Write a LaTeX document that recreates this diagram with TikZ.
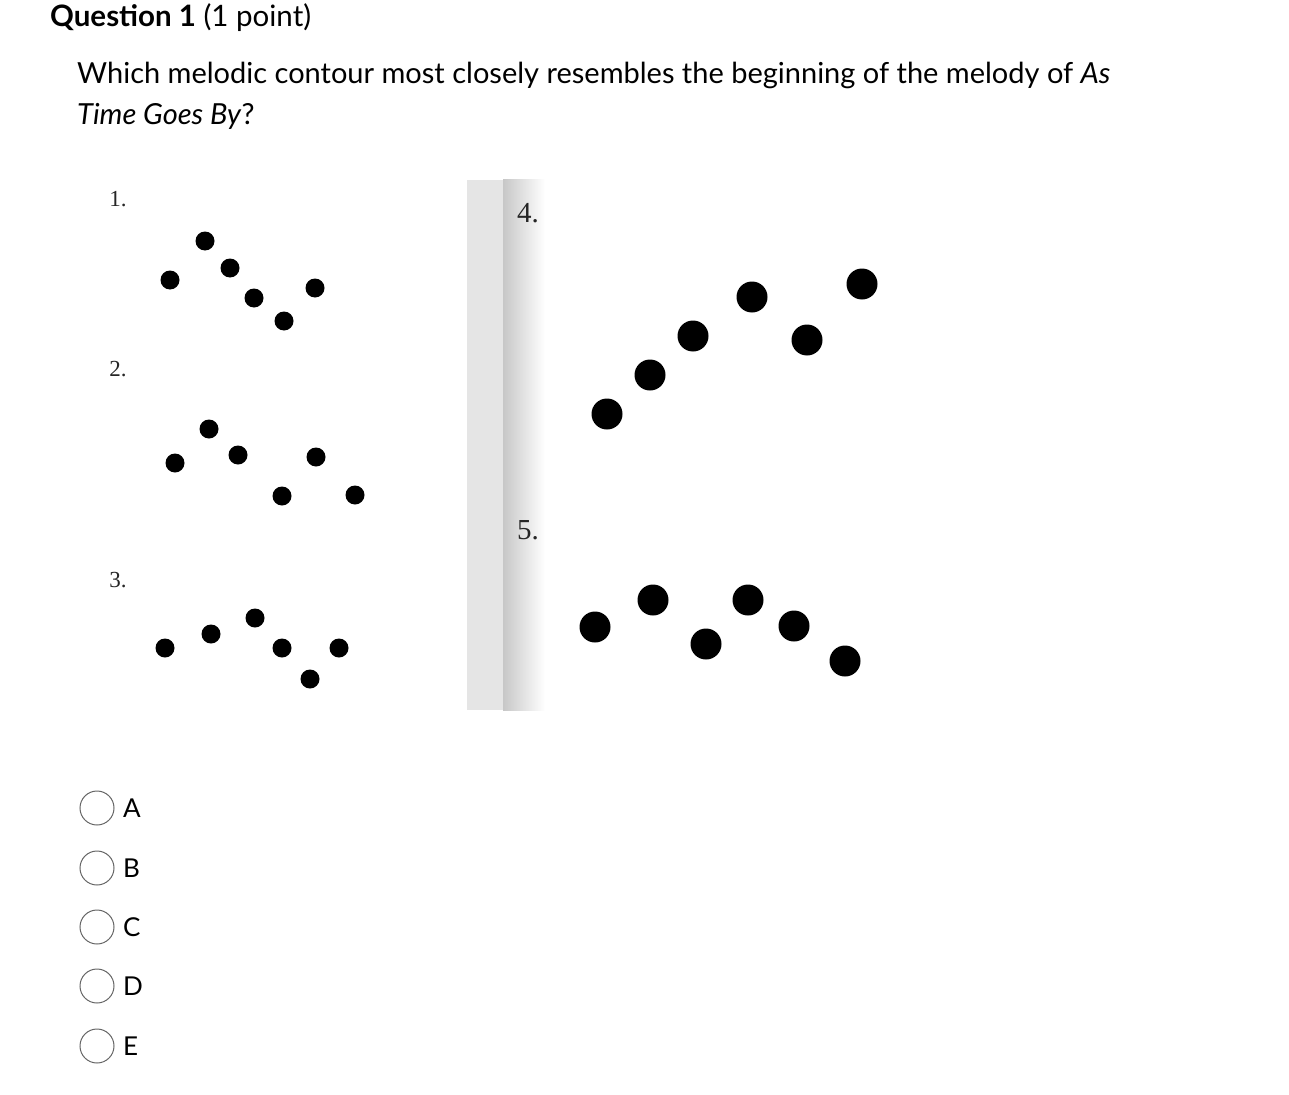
\documentclass[tikz,border=0pt]{standalone}
\usepackage{fontspec}
\setmainfont{Lato}
\newfontfamily\numfont{Liberation Serif}
\begin{document}
\begin{tikzpicture}[x=1pt,y=-1pt,
  txt/.style={anchor=base west,inner sep=0pt,font=\fontsize{29}{34}\selectfont},
  otxt/.style={anchor=west,inner sep=0pt,font=\fontsize{26}{30}\selectfont},
  num/.style={inner sep=0pt,font=\numfont\fontsize{23}{26}\selectfont,text=black!85},
  bnum/.style={inner sep=0pt,font=\numfont\fontsize{29}{32}\selectfont,text=black!85},
  sd/.style={fill=black,circle,minimum size=19pt,inner sep=0pt},
  bd/.style={fill=black,circle,minimum size=31pt,inner sep=0pt},
  radio/.style={draw=black!60,line width=1pt,circle,minimum size=34pt,inner sep=0pt}]
\useasboundingbox (0,0) rectangle (1289,1094);
\node[txt,font=\fontsize{29.5}{34}\selectfont] (q) at (50,27) {\textbf{Question 1} (1 point)};
\node[txt] (l1) at (77,84) {Which melodic contour most closely resembles the beginning of the melody of \textit{As}};
\node[txt] (l2) at (77,125) {\textit{Time Goes By}?};
\fill[black!10] (467,180) rectangle (505,710);
\shade[left color=black!22,right color=white] (503,180) rectangle (545,710);
\node[num] (n1) at (118,199) {1.};
\node[num] (n2) at (118,369) {2.};
\node[num] (n3) at (118,580) {3.};
\node[bnum] (n4) at (528,213) {4.};
\node[bnum] (n5) at (528,530) {5.};
\foreach \x/\y [count=\i] in {170/280,205/241,230/268,254/298,284/321,315/288}
  \node[sd] (a\i) at (\x,\y) {};
\foreach \x/\y [count=\i] in {175/463,209/429,238/455,282/496,316/457,355/495}
  \node[sd] (b\i) at (\x,\y) {};
\foreach \x/\y [count=\i] in {165/648,211/634,255/618,282/648,310/679,339/648}
  \node[sd] (c\i) at (\x,\y) {};
\foreach \x/\y [count=\i] in {607/414,650/375,693/336,752/297,807/340,862/284}
  \node[bd] (d\i) at (\x,\y) {};
\foreach \x/\y [count=\i] in {595/627,653/600,706/644,748/600,794/626,845/661}
  \node[bd] (e\i) at (\x,\y) {};
\foreach \y/\l [count=\i] in {808/A,868/B,927/C,986/D,1046/E}{
  \node[radio] (r\i) at (97,\y) {};
  \node[otxt] (o\i) at (123,\y) {\l};
}
\end{tikzpicture}
\end{document}
